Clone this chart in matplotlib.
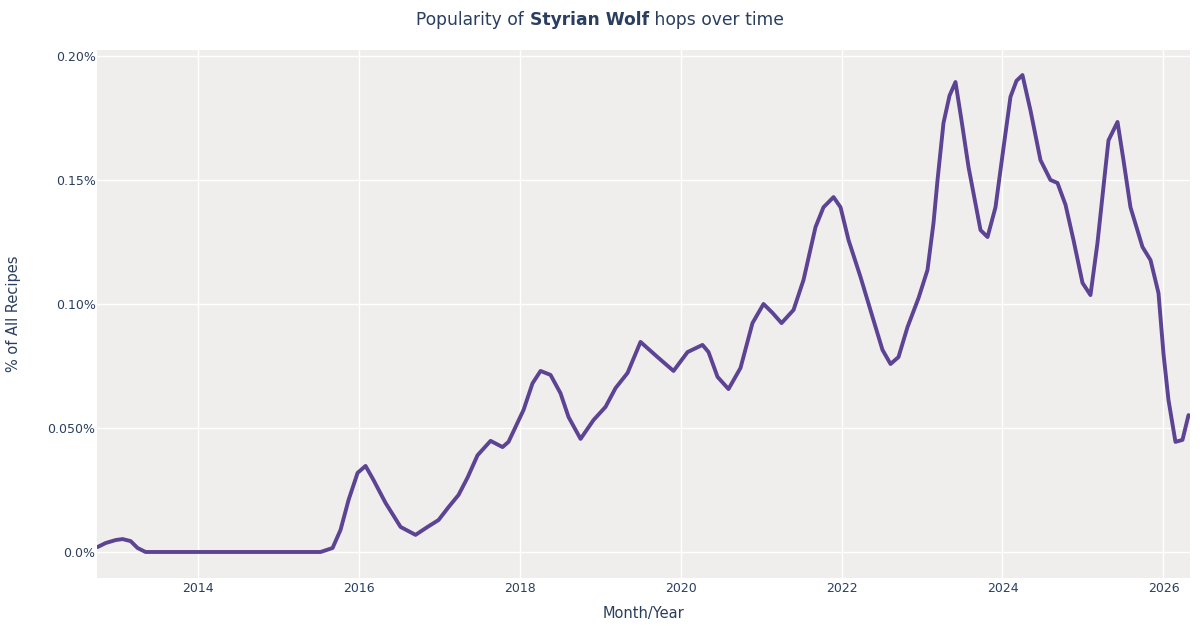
import numpy as np
import matplotlib
matplotlib.use("Agg")
import matplotlib.pyplot as plt

plt.rcParams['font.family'] = ['DejaVu Sans']

# popularity (% of all recipes), x as decimal year
years = [2012.758, 2012.857, 2012.981, 2013.068, 2013.168, 2013.255, 2013.354, 2013.6, 2014.0,
         2014.5, 2015.0, 2015.4, 2015.528, 2015.677, 2015.776, 2015.876, 2015.988, 2016.087,
         2016.186, 2016.335, 2016.522, 2016.708, 2016.857, 2016.994, 2017.118, 2017.242,
         2017.354, 2017.478, 2017.640, 2017.789, 2017.863, 2018.050, 2018.161, 2018.261,
         2018.385, 2018.509, 2018.609, 2018.758, 2018.919, 2019.068, 2019.193, 2019.342,
         2019.503, 2019.714, 2019.913, 2020.087, 2020.273, 2020.348, 2020.460, 2020.596,
         2020.745, 2020.894, 2021.031, 2021.143, 2021.255, 2021.404, 2021.528, 2021.677,
         2021.776, 2021.901, 2021.988, 2022.087, 2022.236, 2022.385, 2022.509, 2022.609,
         2022.708, 2022.820, 2022.957, 2023.068, 2023.143, 2023.193, 2023.267, 2023.342,
         2023.416, 2023.491, 2023.578, 2023.727, 2023.814, 2023.913, 2024.000, 2024.099,
         2024.174, 2024.248, 2024.348, 2024.472, 2024.596, 2024.683, 2024.783, 2024.882,
         2024.994, 2025.093, 2025.180, 2025.280, 2025.317, 2025.429, 2025.503, 2025.590,
         2025.739, 2025.839, 2025.938, 2026.000, 2026.062, 2026.149, 2026.236, 2026.311]
share = [0.0020, 0.0036, 0.0048, 0.0052, 0.0044, 0.0016, 0.0000, 0.0000, 0.0000,
         0.0000, 0.0000, 0.0000, 0.0000, 0.0016, 0.0089, 0.0210, 0.0319, 0.0347,
         0.0290, 0.0198, 0.0101, 0.0069, 0.0101, 0.0129, 0.0181, 0.0230,
         0.0300, 0.0390, 0.0448, 0.0423, 0.0444, 0.0573, 0.0680, 0.0730,
         0.0714, 0.0640, 0.0544, 0.0456, 0.0532, 0.0585, 0.0661, 0.0722,
         0.0847, 0.0786, 0.0730, 0.0806, 0.0835, 0.0806, 0.0706, 0.0657,
         0.0742, 0.0923, 0.1000, 0.0964, 0.0923, 0.0976, 0.1097, 0.1310,
         0.1390, 0.1431, 0.1390, 0.1258, 0.1109, 0.0948, 0.0815, 0.0758,
         0.0786, 0.0907, 0.1024, 0.1137, 0.1327, 0.1500, 0.1730, 0.1840,
         0.1895, 0.1740, 0.1552, 0.1298, 0.1270, 0.1390, 0.1600, 0.1835,
         0.1900, 0.1923, 0.1780, 0.1580, 0.1500, 0.1488, 0.1400, 0.1258,
         0.1085, 0.1036, 0.1246, 0.1550, 0.1660, 0.1734, 0.1580, 0.1390,
         0.1230, 0.1177, 0.1044, 0.0800, 0.0613, 0.0444, 0.0452, 0.0552]

ytick_vals = [0.0, 0.05, 0.10, 0.15, 0.20]
ytick_labels = ['0.0%', '0.050%', '0.10%', '0.15%', '0.20%']
xtick_years = list(range(2014, 2027, 2))

text_color = '#2a3f5f'

fig = plt.figure(figsize=(12, 6.3), dpi=100)
ax = fig.add_axes([0.0808, 0.0825, 0.9109, 0.8381])
ax.set_facecolor('#efeeed')
for s in ax.spines.values():
    s.set_visible(False)

ax.plot(years, share, color='#5c4393', lw=2.8, solid_capstyle='round', solid_joinstyle='round')

ax.set_xlim(2012.75, 2026.33)
ax.set_ylim(-0.0105, 0.2024)
ax.set_yticks(ytick_vals)
ax.set_yticklabels(ytick_labels)
ax.set_xticks(xtick_years)
ax.set_xticklabels([str(y) for y in xtick_years])
ax.grid(True, color='white', lw=1)
ax.set_axisbelow(True)
ax.tick_params(length=0, labelsize=9, colors=text_color)
ax.tick_params(axis='y', pad=1)
ax.tick_params(axis='x', pad=3)

ax.set_xlabel('Month/Year', fontsize=10.5, color=text_color)
ax.set_ylabel('% of All Recipes', fontsize=10.5, color=text_color)
ax.xaxis.set_label_coords(0.5, -0.068)
ax.yaxis.set_label_coords(-0.076, 0.5)
ax.xaxis.label.set_va('center')
ax.yaxis.label.set_va('center')

# title with the hop name in bold
tsize = 12.3
t1 = fig.text(0.5, 0.968, 'Popularity of ', fontsize=tsize, color=text_color, ha='right', va='center')
t2 = ax.annotate('Styrian Wolf', xy=(1, 0), xycoords=t1, fontsize=tsize, fontweight='bold',
                 color=text_color, ha='left', va='bottom')
t3 = ax.annotate(' hops over time', xy=(1, 0), xycoords=t2, fontsize=tsize,
                 color=text_color, ha='left', va='bottom')
fig.canvas.draw()
r = fig.canvas.get_renderer()
w = (t1.get_window_extent(r).width + t2.get_window_extent(r).width + t3.get_window_extent(r).width)
shift = (t1.get_window_extent(r).width - w / 2) / fig.bbox.width
t1.set_x(0.5 + shift)

fig.savefig('out.png', dpi=100)
